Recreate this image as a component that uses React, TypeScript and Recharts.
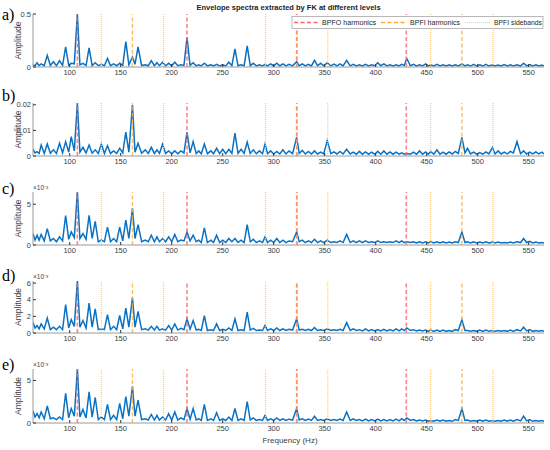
import { LineChart, Line, XAxis, YAxis, ReferenceLine } from 'recharts'

// frequency samples (Hz): alternating spectral peaks and the valleys between them
const FREQ = [
  64, 66, 68, 70, 72, 75, 78, 81, 84, 87,
  90, 93, 96, 99, 101.5, 104.5, 107.5, 110, 113, 116,
  119, 122, 125, 128, 131, 134, 137, 140, 143, 146,
  149, 152, 155, 158, 161.5, 164, 167, 170.5, 174, 177,
  180, 183, 185.5, 188, 191, 194, 197, 200, 203, 206,
  209, 212, 215, 218, 221, 224, 226.5, 229, 232, 235,
  238.5, 241, 244, 247, 250, 253, 256, 259, 262, 265,
  268, 271, 274, 277, 280, 283, 286, 289, 291.5, 294,
  297, 300, 303, 306, 309, 312, 315, 318.5, 322.5, 325,
  328, 331, 334, 337, 340, 343, 346, 349, 352.5, 356,
  359, 362, 365, 368, 371.5, 375, 378, 381, 384, 387,
  390, 393, 396, 399, 402, 405, 408, 411, 414, 417,
  420, 423, 425.5, 428, 430.5, 434, 437, 440, 443, 446,
  449, 451.5, 454, 457, 460, 463, 466, 469, 472, 475,
  478, 481, 484.5, 487.5, 490, 493, 496, 499, 502, 505,
  508, 511, 514.5, 517, 520, 523, 526, 529, 532, 535,
  538.5, 542, 545, 548, 551, 554, 557, 560, 563, 565,
]

const AMP_A = [
  0.02, 0.012, 0.04, 0.012, 0.03, 0.012, 0.11, 0.014, 0.05, 0.013,
  0.06, 0.015, 0.19, 0.018, 0.035, 0.03, 0.5, 0.02, 0.035, 0.014,
  0.18, 0.013, 0.04, 0.012, 0.025, 0.012, 0.08, 0.013, 0.03, 0.012,
  0.035, 0.015, 0.24, 0.02, 0.095, 0.025, 0.19, 0.014, 0.022, 0.012,
  0.06, 0.012, 0.04, 0.012, 0.045, 0.012, 0.035, 0.011, 0.045, 0.012,
  0.02, 0.015, 0.28, 0.015, 0.04, 0.011, 0.02, 0.011, 0.035, 0.011,
  0.02, 0.01, 0.025, 0.01, 0.02, 0.01, 0.045, 0.012, 0.17, 0.012,
  0.02, 0.012, 0.2, 0.013, 0.035, 0.01, 0.02, 0.01, 0.025, 0.01,
  0.03, 0.01, 0.035, 0.01, 0.03, 0.01, 0.025, 0.011, 0.05, 0.012,
  0.03, 0.01, 0.025, 0.01, 0.063, 0.012, 0.035, 0.011, 0.04, 0.01,
  0.028, 0.01, 0.03, 0.01, 0.063, 0.011, 0.025, 0.01, 0.02, 0.01,
  0.025, 0.01, 0.02, 0.012, 0.04, 0.012, 0.03, 0.01, 0.02, 0.01,
  0.02, 0.01, 0.025, 0.015, 0.08, 0.012, 0.025, 0.01, 0.02, 0.01,
  0.03, 0.01, 0.02, 0.01, 0.025, 0.01, 0.02, 0.009, 0.02, 0.009,
  0.02, 0.01, 0.03, 0.01, 0.02, 0.009, 0.025, 0.009, 0.02, 0.009,
  0.025, 0.009, 0.02, 0.009, 0.018, 0.009, 0.022, 0.009, 0.02, 0.009,
  0.02, 0.009, 0.035, 0.01, 0.022, 0.009, 0.02, 0.009, 0.018, 0.01,
]

const AMP_B = [
  0.0026, 0.0012, 0.0017, 0.001, 0.0043, 0.001, 0.0047, 0.0011, 0.0024, 0.001,
  0.005, 0.0012, 0.0056, 0.0015, 0.0076, 0.002, 0.0207, 0.0015, 0.0034, 0.0012,
  0.0043, 0.0011, 0.0024, 0.001, 0.0047, 0.001, 0.004, 0.001, 0.002, 0.001,
  0.003, 0.0012, 0.0093, 0.0015, 0.02, 0.0015, 0.005, 0.0011, 0.0024, 0.001,
  0.0034, 0.001, 0.0024, 0.001, 0.0046, 0.001, 0.002, 0.0009, 0.002, 0.0009,
  0.002, 0.0012, 0.0093, 0.0012, 0.0056, 0.001, 0.002, 0.0009, 0.0047, 0.0009,
  0.002, 0.0009, 0.003, 0.0009, 0.0026, 0.0009, 0.0026, 0.001, 0.0089, 0.001,
  0.0026, 0.001, 0.0054, 0.001, 0.0024, 0.0009, 0.002, 0.0009, 0.0047, 0.0009,
  0.002, 0.0008, 0.0018, 0.0008, 0.0024, 0.0008, 0.002, 0.0009, 0.0073, 0.001,
  0.0022, 0.0008, 0.0018, 0.0008, 0.002, 0.0008, 0.0015, 0.0008, 0.006, 0.0009,
  0.0016, 0.0008, 0.0018, 0.0008, 0.0026, 0.0008, 0.0015, 0.0007, 0.0018, 0.0007,
  0.0016, 0.0007, 0.0015, 0.0007, 0.0018, 0.0007, 0.002, 0.0007, 0.0016, 0.0007,
  0.0015, 0.0007, 0.0012, 0.0007, 0.001, 0.0007, 0.0015, 0.0007, 0.002, 0.0007,
  0.0016, 0.0007, 0.0018, 0.0007, 0.0024, 0.0007, 0.0015, 0.0007, 0.0016, 0.0008,
  0.0018, 0.001, 0.0073, 0.0012, 0.003, 0.0008, 0.0015, 0.0007, 0.0013, 0.0007,
  0.0016, 0.0008, 0.0033, 0.0008, 0.002, 0.0008, 0.0015, 0.0008, 0.0018, 0.0012,
  0.0056, 0.0009, 0.002, 0.0008, 0.0015, 0.0008, 0.0016, 0.0008, 0.0015, 0.0008,
]

// panels c-e are given in units of 1e-3
const AMP_C = [
  1.4, 0.6, 1.2, 0.6, 1.3, 0.5, 2.0, 0.5, 0.8, 0.4,
  1.0, 0.5, 3.6, 0.7, 1.6, 0.9, 6.5, 0.8, 1.4, 0.7,
  3.65, 0.8, 2.9, 0.4, 0.6, 0.4, 2.2, 0.4, 0.8, 0.4,
  2.2, 0.5, 3.05, 0.8, 4.5, 0.8, 2.5, 0.4, 0.6, 0.4,
  1.2, 0.4, 1.0, 0.4, 0.8, 0.4, 1.0, 0.4, 1.3, 0.4,
  0.6, 0.5, 1.6, 0.5, 1.2, 0.4, 0.6, 0.3, 2.1, 0.3,
  0.6, 0.3, 1.2, 0.3, 0.6, 0.3, 0.8, 0.4, 0.8, 0.3,
  0.6, 0.3, 2.5, 0.4, 0.7, 0.3, 0.5, 0.3, 1.0, 0.3,
  0.6, 0.3, 0.8, 0.3, 0.6, 0.3, 0.5, 0.4, 1.6, 0.4,
  0.6, 0.3, 0.5, 0.3, 0.7, 0.3, 0.5, 0.3, 0.6, 0.3,
  0.4, 0.3, 0.5, 0.3, 1.3, 0.3, 0.5, 0.3, 0.5, 0.3,
  0.5, 0.3, 0.4, 0.3, 0.5, 0.3, 0.4, 0.3, 0.4, 0.3,
  0.5, 0.3, 0.5, 0.3, 0.4, 0.3, 0.4, 0.25, 0.4, 0.25,
  0.4, 0.25, 0.4, 0.25, 0.4, 0.25, 0.4, 0.25, 0.35, 0.25,
  0.4, 0.3, 1.6, 0.3, 0.4, 0.25, 0.4, 0.25, 0.35, 0.25,
  0.4, 0.25, 0.35, 0.25, 0.35, 0.25, 0.3, 0.25, 0.35, 0.25,
  0.4, 0.3, 0.8, 0.3, 0.45, 0.25, 0.35, 0.25, 0.3, 0.25,
]

const AMP_D = [
  1.25, 0.6, 0.9, 0.5, 1.1, 0.5, 1.8, 0.4, 0.7, 0.4,
  0.8, 0.4, 3.4, 0.6, 1.6, 0.8, 6.25, 0.7, 1.5, 0.6,
  3.6, 0.7, 2.9, 0.4, 0.5, 0.4, 2.2, 0.4, 0.8, 0.4,
  2.1, 0.5, 3.0, 0.7, 4.25, 0.7, 2.6, 0.4, 0.5, 0.35,
  0.8, 0.35, 0.8, 0.35, 0.5, 0.35, 0.9, 0.35, 1.1, 0.35,
  0.55, 0.4, 1.7, 0.45, 1.5, 0.35, 0.45, 0.3, 2.1, 0.3,
  0.4, 0.3, 1.1, 0.3, 0.45, 0.3, 0.6, 0.3, 1.7, 0.3,
  0.4, 0.3, 2.5, 0.35, 0.55, 0.3, 0.35, 0.3, 0.9, 0.3,
  0.5, 0.3, 0.6, 0.3, 0.5, 0.3, 0.45, 0.35, 1.7, 0.35,
  0.45, 0.3, 0.45, 0.3, 0.65, 0.3, 0.4, 0.3, 0.5, 0.3,
  0.4, 0.3, 0.45, 0.3, 1.25, 0.3, 0.5, 0.3, 0.4, 0.25,
  0.5, 0.25, 0.4, 0.25, 0.4, 0.25, 0.45, 0.25, 0.4, 0.25,
  0.5, 0.25, 0.5, 0.3, 0.6, 0.3, 0.4, 0.25, 0.35, 0.25,
  0.35, 0.2, 0.35, 0.2, 0.35, 0.2, 0.35, 0.2, 0.3, 0.2,
  0.4, 0.3, 1.6, 0.3, 0.3, 0.2, 0.3, 0.2, 0.35, 0.2,
  0.35, 0.2, 0.3, 0.2, 0.3, 0.2, 0.3, 0.2, 0.35, 0.2,
  0.4, 0.25, 0.7, 0.25, 0.4, 0.2, 0.3, 0.2, 0.3, 0.2,
]

const AMP_E = [
  1.4, 0.7, 1.1, 0.6, 1.3, 0.5, 2.0, 0.5, 0.6, 0.4,
  0.7, 0.4, 3.5, 0.6, 1.7, 0.8, 6.35, 0.7, 1.6, 0.6,
  3.65, 0.7, 3.0, 0.4, 0.7, 0.4, 2.2, 0.4, 0.9, 0.4,
  2.3, 0.5, 3.1, 0.8, 4.3, 0.8, 2.7, 0.4, 0.5, 0.35,
  1.0, 0.35, 0.9, 0.35, 0.7, 0.35, 1.1, 0.35, 1.3, 0.35,
  0.6, 0.4, 1.7, 0.45, 1.7, 0.35, 0.5, 0.3, 2.2, 0.3,
  0.5, 0.3, 1.2, 0.3, 0.5, 0.3, 0.7, 0.3, 1.7, 0.3,
  0.5, 0.3, 2.5, 0.35, 0.6, 0.3, 0.4, 0.3, 0.9, 0.3,
  0.5, 0.3, 0.6, 0.3, 0.5, 0.3, 0.45, 0.35, 1.7, 0.35,
  0.5, 0.3, 0.45, 0.3, 0.8, 0.3, 0.4, 0.3, 0.5, 0.3,
  0.4, 0.3, 0.45, 0.3, 1.3, 0.3, 0.5, 0.3, 0.4, 0.25,
  0.45, 0.25, 0.4, 0.25, 0.45, 0.25, 0.4, 0.25, 0.4, 0.25,
  0.45, 0.25, 0.5, 0.3, 0.6, 0.3, 0.4, 0.25, 0.35, 0.25,
  0.35, 0.2, 0.3, 0.2, 0.35, 0.2, 0.35, 0.2, 0.3, 0.2,
  0.4, 0.3, 1.7, 0.3, 0.35, 0.2, 0.3, 0.2, 0.35, 0.2,
  0.35, 0.2, 0.3, 0.2, 0.3, 0.2, 0.35, 0.2, 0.35, 0.2,
  0.4, 0.25, 0.8, 0.25, 0.4, 0.2, 0.3, 0.2, 0.3, 0.2,
]

const BPFO = [107.5, 215, 322.5, 430]
const BPFI = [161.5, 323, 484.5]
const SIDEBANDS = [131, 192, 292, 353, 454, 515]

const X_TICKS = [100, 150, 200, 250, 300, 350, 400, 450, 500, 550]
const X_DOMAIN = [64, 565]

const PANELS = [
  { label: 'a)', amp: AMP_A, yMax: 0.5, yTicks: [0, 0.5], exp: false, top: 14, h: 53, labelY: 20 },
  { label: 'b)', amp: AMP_B, yMax: 0.0207, yTicks: [0, 0.01, 0.02], exp: false, top: 103, h: 53, labelY: 101 },
  { label: 'c)', amp: AMP_C, yMax: 6.5, yTicks: [0, 5], exp: true, top: 192, h: 53, labelY: 194 },
  { label: 'd)', amp: AMP_D, yMax: 6.25, yTicks: [0, 2, 4, 6], exp: true, top: 281, h: 52, labelY: 281 },
  { label: 'e)', amp: AMP_E, yMax: 6.35, yTicks: [0, 5], exp: true, top: 369, h: 54, labelY: 370 },
]

const FONT = '"Liberation Sans", Arial, sans-serif'
const BOX = '#9a9a9a'
const TICK = '#333'
const TXT = '#404040'
const BLUE = '#0a72c4'
const RED = '#ff6464'
const ORANGE = '#ffad33'
const PALE = '#ffc878'
const PAD = 6

function Panel({ p }: { p: (typeof PANELS)[number] }) {
  const data = FREQ.map((f, i) => ({ f, a: p.amp[i] }))
  const tickStyle = { fontSize: 7.5, fill: TXT, fontFamily: FONT }
  return (
    <div style={{ position: 'absolute', left: 0, top: p.top - PAD }}>
      <LineChart width={550} height={p.h + PAD + 20} data={data} margin={{ top: PAD, right: 6, bottom: 0, left: 0 }}>
        <XAxis
          xAxisId="top" orientation="top" type="number" dataKey="f" domain={X_DOMAIN} ticks={X_TICKS}
          height={0} tick={false} tickSize={-3} allowDataOverflow
          axisLine={{ stroke: BOX }} tickLine={{ stroke: TICK }}
        />
        <XAxis
          type="number" dataKey="f" domain={X_DOMAIN} ticks={X_TICKS} interval={0}
          height={20} tickSize={-3} tickMargin={5.5} allowDataOverflow
          axisLine={{ stroke: BOX }} tickLine={{ stroke: TICK }} tick={tickStyle}
        />
        <YAxis
          type="number" domain={[0, p.yMax]} ticks={p.yTicks} interval={0} width={33}
          tickSize={-3} tickMargin={5} allowDataOverflow
          axisLine={{ stroke: BOX }} tickLine={{ stroke: TICK }} tick={tickStyle}
          label={{ value: 'Amplitude', angle: -90, position: 'center', dx: 1, fontSize: 8.5, fill: TXT, fontFamily: FONT }}
        />
        <YAxis
          yAxisId="r" orientation="right" type="number" domain={[0, p.yMax]} ticks={p.yTicks} interval={0}
          width={0} tick={false} tickSize={-3} allowDataOverflow
          axisLine={{ stroke: BOX }} tickLine={{ stroke: TICK }}
        />
        <Line dataKey="a" type="linear" stroke={BLUE} strokeWidth={1.5} dot={false} isAnimationActive={false} />
        {SIDEBANDS.map((f) => (
          <ReferenceLine key={'s' + f} x={f} stroke={PALE} strokeWidth={1.2} strokeDasharray="1 1" />
        ))}
        {BPFO.map((f) => (
          <ReferenceLine key={'o' + f} x={f} stroke={RED} strokeOpacity={0.8} strokeWidth={1.6} strokeDasharray="4 2.5" />
        ))}
        {BPFI.map((f) => (
          <ReferenceLine key={'i' + f} x={f} stroke={ORANGE} strokeOpacity={0.8} strokeWidth={1.4} strokeDasharray="4 2.5" />
        ))}
      </LineChart>
    </div>
  )
}

function Overlay() {
  return (
    <svg width={550} height={450} style={{ position: 'absolute', left: 0, top: 0, pointerEvents: 'none' }}>
      <text x={288.5} y={10} textAnchor="middle" fontSize={7.5} fontWeight="bold" fill="#222" fontFamily={FONT}>
        Envelope spectra extracted by FK at different levels
      </text>
      {PANELS.map((p) => (
        <g key={p.label}>
          <text x={2} y={p.labelY} fontSize={16} fill="#000" fontFamily='"Liberation Serif", "Times New Roman", serif'>
            {p.label}
          </text>
          {p.exp && (
            <text x={33} y={p.top - 2.5} fontSize={6.5} fill={TXT} fontFamily={FONT}>
              ×10⁻³
            </text>
          )}
        </g>
      ))}
      <g fontFamily={FONT} fontSize={7.5} fill="#262626">
        <rect x={292} y={16.5} width={251} height={12} fill="#fff" stroke={BOX} strokeWidth={0.7} />
        <line x1={294} x2={318} y1={22.5} y2={22.5} stroke={RED} strokeWidth={1.6} strokeDasharray="4 2.5" />
        <text x={322} y={25.3} textLength={54} lengthAdjust="spacingAndGlyphs">BPFO harmonics</text>
        <line x1={381} x2={407} y1={22.5} y2={22.5} stroke={ORANGE} strokeWidth={1.4} strokeDasharray="4 2.5" />
        <text x={410} y={25.3} textLength={50} lengthAdjust="spacingAndGlyphs">BPFI harmonics</text>
        <line x1={465} x2={491} y1={22.5} y2={22.5} stroke={PALE} strokeWidth={1.2} strokeDasharray="1 1" />
        <text x={494} y={25.3} textLength={48} lengthAdjust="spacingAndGlyphs">BPFI sidebands</text>
      </g>
      <text x={290} y={443} textAnchor="middle" fontSize={8} fill={TXT} fontFamily={FONT}>
        Frequency (Hz)
      </text>
    </svg>
  )
}

export default function App() {
  return (
    <div style={{ position: 'absolute', left: 0, top: 0, width: 550, height: 450, background: '#fff' }}>
      {PANELS.map((p) => (
        <Panel key={p.label} p={p} />
      ))}
      <Overlay />
    </div>
  )
}
